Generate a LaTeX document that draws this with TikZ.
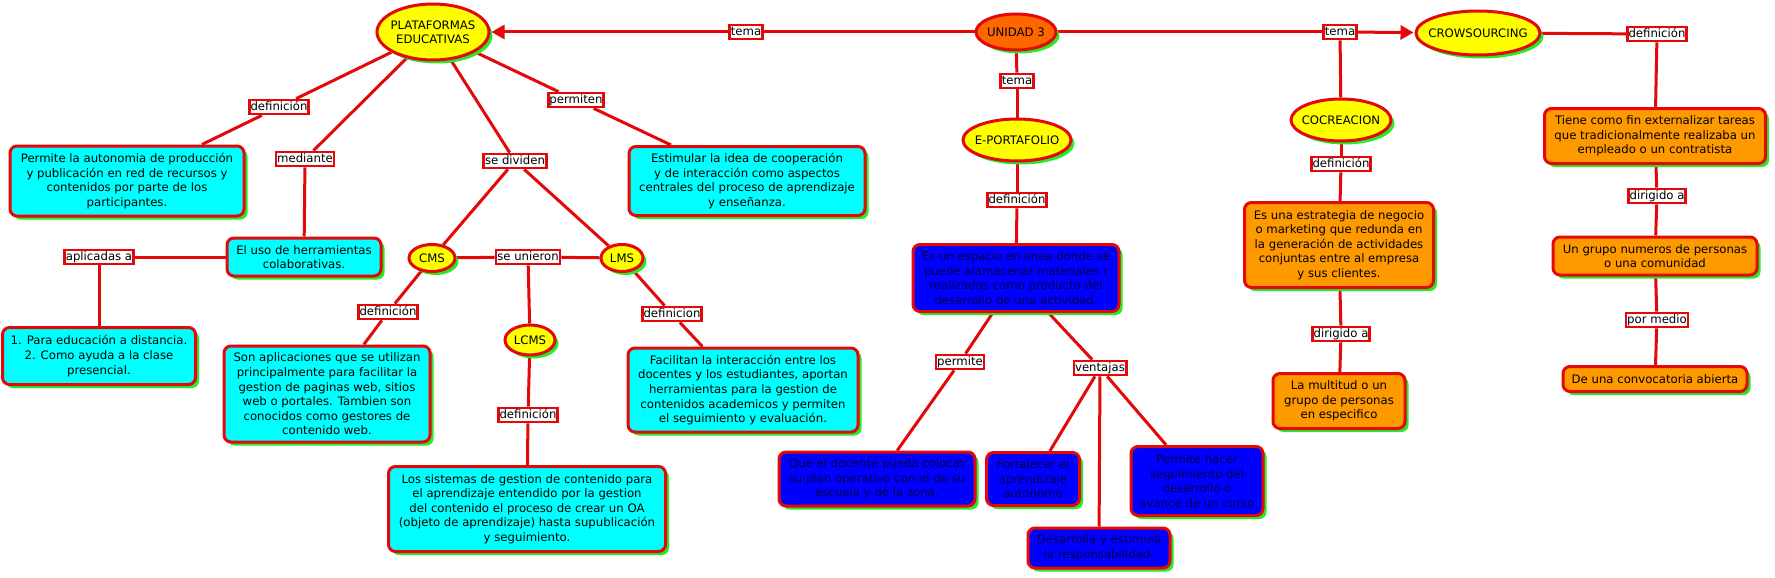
\documentclass[tikz,border=0pt]{standalone}
\usepackage{fontspec}
\setmainfont{DejaVu Sans}
\usetikzlibrary{shapes.geometric,shadows,arrows.meta,backgrounds}
\definecolor{lnred}{RGB}{228,8,10}
\definecolor{shgreen}{RGB}{40,235,40}
\definecolor{ylw}{RGB}{255,255,0}
\definecolor{unorange}{RGB}{255,102,0}
\definecolor{cyanbox}{RGB}{0,255,255}
\definecolor{bluebox}{RGB}{0,0,255}
\definecolor{orbox}{RGB}{255,153,0}
\definecolor{bluetext}{RGB}{0,0,70}
\tikzset{
 gshadow/.style={drop shadow={shadow xshift=3.5pt,shadow yshift=-3.5pt,fill=shgreen,opacity=1}},
 clabel/.style={align=center,inner sep=0pt,font=\fontsize{11.7}{14.4}\selectfont},
 concept/.style={ellipse,draw=lnred,line width=3pt,fill=ylw,gshadow,inner sep=0pt},
 card/.style={rectangle,rounded corners=7pt,draw=lnred,line width=3pt,gshadow,inner sep=2pt,align=center,font=\fontsize{11.7}{14.6}\selectfont},
 cyancard/.style={card,fill=cyanbox},
 bluecard/.style={card,fill=bluebox,text=bluetext},
 orcard/.style={card,fill=orbox},
 linkph/.style={rectangle,draw=lnred,line width=2.8pt,fill=white,inner xsep=1.2pt,inner ysep=1.2pt,text height=9pt,text depth=2.5pt,font=\fontsize{11.7}{14}\selectfont},
 conn/.style={draw=lnred,line width=3pt},
 arr/.style={conn,-{Triangle[length=13pt,width=14pt]},shorten >=1pt},
}
\begin{document}
\begin{tikzpicture}[x=1pt,y=-1pt]
\useasboundingbox (0,0) rectangle (1775,578);
% concepts
\node[concept,fill=unorange,minimum width=80pt,minimum height=36pt,label={[clabel]center:UNIDAD 3}] (unidad) at (1016,32) {};
\node[concept,minimum width=112pt,minimum height=56pt,label={[clabel]center:PLATAFORMAS\\EDUCATIVAS}] (plat) at (433,32) {};
\node[concept,minimum width=108pt,minimum height=42pt,label={[clabel]center:E-PORTAFOLIO}] (eport) at (1017,140) {};
\node[concept,minimum width=100pt,minimum height=42pt,label={[clabel]center:COCREACION}] (cocr) at (1341,120) {};
\node[concept,minimum width=124pt,minimum height=44pt,label={[clabel]center:CROWSOURCING}] (crows) at (1478,33) {};
\node[concept,minimum width=46pt,minimum height=27pt,label={[clabel]center:CMS}] (cms) at (432,258) {};
\node[concept,minimum width=42pt,minimum height=27pt,label={[clabel]center:LMS}] (lms) at (622,258) {};
\node[concept,minimum width=50pt,minimum height=30pt,label={[clabel]center:LCMS}] (lcms) at (530,340) {};
% link phrases
\node[linkph] (ldefa) at (279,107) {definición};
\node[linkph] (lmed) at (305,159) {mediante};
\node[linkph] (lapl) at (99,257) {aplicadas a};
\node[linkph] (ldiv) at (515,161) {se dividen};
\node[linkph] (lper) at (576,100) {permiten};
\node[linkph] (luni) at (528,257) {se unieron};
\node[linkph] (ldefcms) at (388,312) {definición};
\node[linkph] (ldeflcms) at (528,415) {definición};
\node[linkph] (ldeflms) at (672,314) {definicion};
\node[linkph] (ltemaa) at (746,32) {tema};
\node[linkph] (ltemab) at (1017,81) {tema};
\node[linkph] (ltemac) at (1340,32) {tema};
\node[linkph] (ldefep) at (1017,200) {definición};
\node[linkph] (lpermite) at (960,362) {permite};
\node[linkph] (lvent) at (1100,368) {ventajas};
\node[linkph] (ldefco) at (1341,164) {definición};
\node[linkph] (ldirco) at (1341,334) {dirigido a};
\node[linkph] (ldefcr) at (1657,34) {definición};
\node[linkph] (ldircr) at (1657,196) {dirigido a};
\node[linkph] (lpormed) at (1657,320) {por medio};
% cards
\node[cyancard,minimum width=234pt,minimum height=70pt] (b1) at (127,181) {Permite la autonomia de producción\\y publicación en red de recursos y\\contenidos por parte de los\\participantes.};
\node[cyancard,minimum width=154pt,minimum height=38pt] (b2) at (304,257) {El uso de herramientas\\colaborativas.};
\node[cyancard,minimum width=193pt,minimum height=57pt] (b3) at (99,356) {1. Para educación a distancia.\\2. Como ayuda a la clase\\presencial.};
\node[cyancard,minimum width=206pt,minimum height=96pt] (b4) at (327,394) {Son aplicaciones que se utilizan\\principalmente para facilitar la\\gestion de paginas web, sitios\\web o portales. Tambien son\\conocidos como gestores de\\contenido web.};
\node[cyancard,minimum width=277pt,minimum height=85pt] (b5) at (527,509) {Los sistemas de gestion de contenido para\\el aprendizaje entendido por la gestion\\del contenido el proceso de crear un OA\\(objeto de aprendizaje) hasta supublicación\\y seguimiento.};
\node[cyancard,minimum width=236pt,minimum height=69pt] (b6) at (747,181) {Estimular la idea de cooperación\\y de interacción como aspectos\\centrales del proceso de aprendizaje\\y enseñanza.};
\node[cyancard,minimum width=230pt,minimum height=84pt] (b7) at (743,390) {Facilitan la interacción entre los\\docentes y los estudiantes, aportan\\herramientas para la gestion de\\contenidos academicos y permiten\\el seguimiento y evaluación.};
\node[bluecard,minimum width=206pt,minimum height=67pt] (edef) at (1016,278) {Es un espacio en linea donde se\\puede alamacenar materiales r\\realizados como producto del\\desarrollo de una actividad.};
\node[bluecard,minimum width=196pt,minimum height=54pt] (b8) at (877,479) {Que el docente pueda colocar\\su plan operativo con el de su\\escuela y de la zona.};
\node[bluecard,minimum width=93pt,minimum height=53pt] (b9) at (1033,479) {Fortalecer el\\aprendizaje\\autonomo};
\node[bluecard,minimum width=132pt,minimum height=69pt] (b10) at (1197,481) {Permite hacer\\seguimiento del\\desarrollo o\\avance de un curso};
\node[bluecard,minimum width=142pt,minimum height=40pt] (b11) at (1099,548) {Desarrolla y estimula\\la responsabilidad.};
\node[orcard,minimum width=189pt,minimum height=85pt] (b12) at (1339,245) {Es una estrategia de negocio\\o marketing que redunda en\\la generación de actividades\\conjuntas entre al empresa\\y sus clientes.};
\node[orcard,minimum width=221pt,minimum height=55pt] (b13) at (1655,136) {Tiene como fin externalizar tareas\\que tradicionalmente realizaba un\\empleado o un contratista};
\node[orcard,minimum width=204pt,minimum height=38pt] (b14) at (1655,256) {Un grupo numeros de personas\\o una comunidad};
\node[orcard,minimum width=132pt,minimum height=55pt] (b15) at (1339,401) {La multitud o un\\grupo de personas\\en especifico};
\node[orcard,minimum width=184pt,minimum height=25pt] (b16) at (1655,379) {De una convocatoria abierta};
% connectors
\begin{scope}[on background layer]
\fill[white] (0,0) rectangle (1775,578);
\draw[conn] (unidad) -- (ltemaa);
\draw[arr] (ltemaa) -- (plat);
\draw[conn] (unidad) -- (ltemab);
\draw[conn] (ltemab) -- (eport);
\draw[conn] (unidad) -- (ltemac);
\draw[arr] (ltemac) -- (crows);
\draw[conn] (ltemac) -- (cocr);
\draw[conn] (plat) -- (ldefa);
\draw[conn] (ldefa) -- (b1);
\draw[conn] (plat) -- (lmed);
\draw[conn] (lmed) -- (b2);
\draw[conn] (b2) -- (lapl);
\draw[conn] (lapl) -- (b3);
\draw[conn] (plat) -- (ldiv);
\draw[conn] (ldiv) -- (cms);
\draw[conn] (ldiv) -- (lms);
\draw[conn] (plat) -- (lper);
\draw[conn] (lper) -- (b6);
\draw[conn] (cms) -- (luni);
\draw[conn] (luni) -- (lms);
\draw[conn] (luni) -- (lcms);
\draw[conn] (cms) -- (ldefcms);
\draw[conn] (ldefcms) -- (b4);
\draw[conn] (lcms) -- (ldeflcms);
\draw[conn] (ldeflcms) -- (b5);
\draw[conn] (lms) -- (ldeflms);
\draw[conn] (ldeflms) -- (b7);
\draw[conn] (eport) -- (ldefep);
\draw[conn] (ldefep) -- (edef);
\draw[conn] (edef) -- (lpermite);
\draw[conn] (lpermite) -- (b8);
\draw[conn] (edef) -- (lvent);
\draw[conn] (lvent) -- (b9);
\draw[conn] (lvent) -- (b10);
\draw[conn] (lvent) -- (b11);
\draw[conn] (cocr) -- (ldefco);
\draw[conn] (ldefco) -- (b12);
\draw[conn] (b12) -- (ldirco);
\draw[conn] (ldirco) -- (b15);
\draw[conn] (crows) -- (ldefcr);
\draw[conn] (ldefcr) -- (b13);
\draw[conn] (b13) -- (ldircr);
\draw[conn] (ldircr) -- (b14);
\draw[conn] (b14) -- (lpormed);
\draw[conn] (lpormed) -- (b16);
\end{scope}
\end{tikzpicture}
\end{document}
